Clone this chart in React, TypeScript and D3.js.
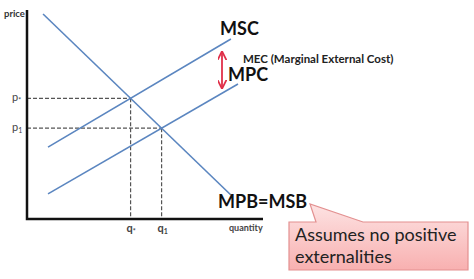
import React from "react";
import * as d3 from "d3";

// Curves in chart units (quantity 0-100, price 0-100)
const curveNames = ["MPB", "MSC", "MPC"];
const curveStartQ = [6.8, 8.9, 8.9];
const curveStartP = [98.1, 34.4, 12.0];
const curveEndQ = [86.4, 86.4, 89.4];
const curveEndP = [11.5, 86.1, 64.6];

const curveLabels = ["MPB=MSB", "MSC", "MPC"];
const axisLabels = ["price", "quantity"];
const priceTickLabels = ["p", "p"];
const priceTickSubs = ["*", "1"];
const qtyTickLabels = ["q", "q"];
const qtyTickSubs = ["*", "1"];
const mecLabel = "MEC (Marginal External Cost)";
const calloutLines = ["Assumes no positive", "externalities"];

const W = 474;
const H = 279;
const x = d3.scaleLinear().domain([0, 100]).range([27, 263]);
const y = d3.scaleLinear().domain([0, 100]).range([219, 10]);

type Seg = { x1: number; y1: number; x2: number; y2: number };
function seg(i: number): Seg {
  return {
    x1: x(curveStartQ[i]),
    y1: y(curveStartP[i]),
    x2: x(curveEndQ[i]),
    y2: y(curveEndP[i]),
  };
}
function intersect(a: Seg, b: Seg) {
  const d = (a.x1 - a.x2) * (b.y1 - b.y2) - (a.y1 - a.y2) * (b.x1 - b.x2);
  const t = ((a.x1 - b.x1) * (b.y1 - b.y2) - (a.y1 - b.y1) * (b.x1 - b.x2)) / d;
  return { x: a.x1 + t * (a.x2 - a.x1), y: a.y1 + t * (a.y2 - a.y1) };
}

export default function App() {
  const segs = curveNames.map((_, i) => seg(i));
  const eqStar = intersect(segs[0], segs[1]);
  const eqOne = intersect(segs[0], segs[2]);
  const eqs = [eqStar, eqOne];
  const line = d3.line<[number, number]>();
  const blue = "#5b86c0";
  const font = "Lato, 'Open Sans', sans-serif";
  const red = "#e0304a";

  return (
    <svg
      width={W}
      height={H}
      style={{ position: "absolute", left: 0, top: 0, background: "#fff" }}
      fontFamily={font}
    >
      <defs>
        <linearGradient id="pink" x1="0" y1="0" x2="0" y2="1">
          <stop offset="0" stopColor="#fde3e3" />
          <stop offset="1" stopColor="#f8b0b0" />
        </linearGradient>
        <marker id="ah" viewBox="0 0 10 10" refX="8" refY="5" markerWidth="5" markerHeight="5" orient="auto-start-reverse">
          <path d="M0,0 L10,5 L0,10" fill="none" stroke={red} strokeWidth="2" />
        </marker>
      </defs>

      {/* dashed guides */}
      {eqs.map((e, i) => (
        <g key={i} stroke="#555" strokeWidth={1.2} strokeDasharray="4,2" fill="none">
          <path d={line([[x(0), e.y], [e.x, e.y]]) || ""} />
          <path d={line([[e.x, e.y], [e.x, y(0)]]) || ""} />
        </g>
      ))}

      {/* curves */}
      {segs.map((s, i) => (
        <path
          key={curveNames[i]}
          d={line([[s.x1, s.y1], [s.x2, s.y2]]) || ""}
          stroke={blue}
          strokeWidth={1.6}
          fill="none"
        />
      ))}

      {/* axes */}
      <path
        d={line([[x(0), y(100)], [x(0), y(0)], [x(100), y(0)]]) || ""}
        stroke="#111"
        strokeWidth={2.5}
        fill="none"
      />

      {/* axis labels */}
      <text x={4} y={17} fontSize={9.5} fontWeight={700} fill="#333">
        {axisLabels[0]}
      </text>
      <text x={229} y={231} fontSize={9} fontWeight={700} fill="#444">
        {axisLabels[1]}
      </text>

      {/* price tick labels */}
      {eqs.map((e, i) => (
        <text key={"p" + i} x={12} y={e.y + 3} fontSize={11} fill="#444">
          {priceTickLabels[i]}
          <tspan fontSize={7} dy={2}>
            {priceTickSubs[i]}
          </tspan>
        </text>
      ))}
      {eqs.map((e, i) => (
        <text key={"q" + i} x={e.x - 4} y={232} fontSize={11} fontWeight={700} fill="#444">
          {qtyTickLabels[i]}
          <tspan fontSize={7} dy={2}>
            {qtyTickSubs[i]}
          </tspan>
        </text>
      ))}

      {/* curve labels */}
      <text x={218} y={208} fontSize={18} fontWeight={700} fill="#111">
        {curveLabels[0]}
      </text>
      <text x={220} y={35} fontSize={18} fontWeight={700} fill="#111">
        {curveLabels[1]}
      </text>
      <text x={228} y={81} fontSize={18} fontWeight={700} fill="#111">
        {curveLabels[2]}
      </text>
      <text x={243} y={63} fontSize={11.5} fontWeight={700} fill="#222">
        {mecLabel}
      </text>

      {/* MEC arrow */}
      <path
        d={line([[222, 53], [222, 87]]) || ""}
        stroke={red}
        strokeWidth={1.8}
        markerStart="url(#ah)"
        markerEnd="url(#ah)"
      />

      {/* callout */}
      <path
        d="M289,222 L316,222 L310,204 L363,222 L468,222 L468,270 L289,270 Z"
        fill="url(#pink)"
        stroke="#e39090"
        strokeWidth={1.2}
      />
      <text x={295} y={241} fontSize={18} fill="#222">
        {calloutLines[0]}
      </text>
      <text x={295} y={263} fontSize={18} fill="#222">
        {calloutLines[1]}
      </text>
    </svg>
  );
}
